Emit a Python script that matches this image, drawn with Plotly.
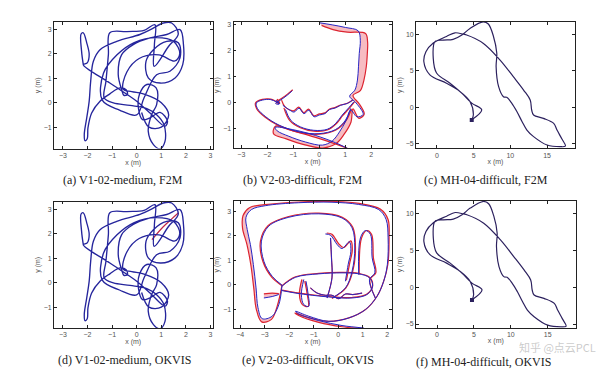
import plotly.graph_objects as go

# ---------------- data ----------------
# V1-02-medium trajectory (panels a, d)
v1_x = [-2.17,-2.24,-2.26,-2.17,-2.03,-1.93,-2.01,-2.17,-1.09,0.00,
        0.54,1.15,1.25,0.95,0.54,0.24,0.07,0.11,0.41,0.79,
        0.81,0.60,0.47,0.68,0.95,1.15,1.11,0.81,0.41,-0.27,
        -0.95,-1.32,-1.25,-1.15,-1.09,-0.40,0.30,0.74,0.72,0.71,
        1.30,1.69,1.42,1.08,0.60,0.13,-0.81,-1.49,-1.76,-1.87,
        -1.93,-2.03,-2.13,-2.10,-2.01,-1.98,-1.83,-1.49,-1.09,-0.68,
        -0.43,-0.38,-0.52,-0.61,-0.75,-0.61,-0.14,0.54,1.22,1.76,
        1.90,1.87,1.56,0.95,0.47,0.38,0.68,1.22,1.69,1.76,
        1.35,0.81,0.30,0.00,-0.70,-1.40,-1.35,-0.80,-0.10,0.80,
        1.50,1.75,1.55,0.90,0.10,-0.40,-0.55,-0.20,0.30,1.00,
        1.30,1.00,0.50,0.20]
v1_y = [1.55,2.10,2.80,2.85,2.44,1.96,1.62,1.55,0.80,0.06,
        -0.42,-0.96,-0.75,-0.40,-0.62,-0.69,-0.22,0.33,0.74,0.60,
        -0.08,-0.50,-1.17,-1.71,-1.88,-1.58,-0.90,-0.49,-0.24,-0.11,
        -0.01,0.19,0.87,1.96,2.85,2.90,2.95,3.18,2.37,1.48,
        2.30,2.80,3.25,3.25,3.00,2.78,2.50,2.16,1.69,0.87,
        0.06,-0.62,-1.30,-1.55,-1.47,-1.03,-0.42,0.06,0.36,0.60,
        0.53,0.33,0.30,0.53,1.14,1.96,2.37,2.64,2.78,2.98,
        2.37,1.55,1.01,0.80,1.01,1.69,2.16,2.50,2.44,1.83,
        1.28,1.14,0.20,-0.50,-0.30,0.10,1.20,1.95,2.45,2.65,
        2.50,2.00,1.70,1.95,1.80,1.25,0.55,0.45,0.35,0.00,
        -0.50,-1.00,-1.00,-0.40]
# small visible ground-truth deviation in panel (d)
d_gt_x = [0.62,1.05,1.40,1.70]
d_gt_y = [1.75,2.25,2.58,2.85]

# MH-04-difficult trajectory (panels c, f)
mh_x = [4.74,4.96,4.5,3.1,1.3,-0.96,-1.78,-1.5,-0.5,1.3,
        2.46,3.6,4.05,6.33,8.6,10.4,11.8,12.7,12.9,13.16,
        14.5,15.9,16.35,17.0,17.5,16.8,15.0,13.16,12.25,11.6,
        10.9,10.2,9.5,9.06,8.4,8.06,8.15,7.7,7.0,6.3,
        4.5,3.4,2.2,0.87,-0.27,-0.5,-0.05,1.78,3.37,4.74,
        6.1,4.74]
mh_y = [-1.73,-1.0,0.8,2.2,3.3,4.45,6.24,7.6,8.8,9.7,
        10.2,10.0,9.9,8.75,6.47,4.2,2.37,1.0,-0.36,-1.05,
        -1.5,-2.19,-3.1,-4.3,-5.29,-5.38,-5.15,-4.0,-3.1,-1.96,
        -0.6,0.55,1.37,1.46,2.83,5.56,7.4,9.7,11.4,11.7,
        10.8,9.9,9.3,9.2,9.0,6.7,4.7,3.3,1.95,0.58,
        -0.34,-1.7]

N = None
# V2-03-difficult, F2M (panel b): estimate and ground truth, strokes split by None
b_est_x = [0.01,0.50,1.01,1.50,1.58,1.54,1.51,1.47,1.37,1.17,1.42,1.69,1.45,1.21,1.04,0.78,0.50,0.12,-0.53,-1.17,-1.62,-1.70,-1.04,-0.14,0.63,1.08, N,
           1.21,1.01,0.63,-0.01,-0.78,-1.55,-2.06,-2.38,-2.42,-2.19,-1.87,-1.65,-1.52, N,
           -1.30,-1.10,-0.72,-0.21,0.31,0.63,0.88,1.14,1.33, N,
           -1.40,-1.17,-0.97,-0.78,-0.59,-0.40,-0.20,0.01,0.22,0.40,0.60,0.82,1.08,1.29, N,
           -1.04,-1.23,-1.49,-1.68,-1.55,-1.65]
b_est_y = [3.05,2.97,2.87,2.74,2.38,1.87,1.36,0.85,0.46,0.23,-0.03,-0.47,-0.56,-0.31,-0.69,-1.14,-1.49,-1.65,-1.53,-1.31,-1.10,-0.97,-1.05,-1.28,-1.56,-1.77, N,
           -0.24,-0.69,-1.05,-1.21,-1.14,-0.88,-0.56,-0.24,-0.03,0.08,0.10,0.01,-0.05, N,
           -0.28,-0.69,-0.95,-1.08,-1.04,-0.82,-0.50,-0.21,0.01, N,
           -0.12,-0.28,-0.38,-0.23,-0.44,-0.31,-0.56,-0.49,-0.44,-0.28,-0.23,-0.12,-0.05,0.08, N,
           0.44,0.27,0.08,-0.05,-0.08,0.08]
b_gt_x = [0.09,0.53,1.08,1.78,1.86,1.85,1.81,1.72,1.58,1.30,1.55,1.73,1.53,1.30,1.22,0.96,0.65,0.14,-0.55,-1.27,-1.76,-1.68,-1.01,-0.11,0.65,1.08, N,
          1.24,1.03,0.64,-0.01,-0.78,-1.56,-2.08,-2.41,-2.45,-2.19,-1.87,-1.65,-1.52, N,
          -1.36,-1.14,-0.73,-0.21,0.31,0.64,0.90,1.17,1.36, N,
          -1.45,-1.30,-0.99,-0.79,-0.60,-0.41,-0.21,0.01,0.22,0.40,0.60,0.82,1.08,1.29, N,
          -1.02,-1.21,-1.47,-1.66,-1.52,-1.62]
b_gt_y = [2.95,2.79,2.69,2.64,2.32,1.87,1.36,0.85,0.44,0.26,-0.08,-0.46,-0.62,-0.26,-0.77,-1.23,-1.59,-1.76,-1.64,-1.41,-1.21,-0.92,-1.10,-1.36,-1.61,-1.77, N,
          -0.26,-0.71,-1.07,-1.23,-1.16,-0.90,-0.58,-0.25,-0.02,0.11,0.12,0.03,-0.03, N,
          -0.22,-0.70,-0.98,-1.11,-1.07,-0.84,-0.52,-0.22,0.02, N,
          0.08,-0.20,-0.33,-0.19,-0.40,-0.27,-0.52,-0.45,-0.41,-0.26,-0.21,-0.11,-0.04,0.08, N,
          0.48,0.32,0.13,0.00,-0.04,0.12]

# V2-03-difficult, OKVIS (panel e)
e_est_x = [-2.29,-2.42,-2.69,-3.10,-3.27,-3.35,-3.46,-3.58,-3.71,-3.76,-3.54,-2.97,-1.61,-0.25,0.84,1.66,1.96,2.04,2.01,1.86,1.59,1.12,0.44,-0.38,-1.20,-1.74,-1.61,-0.79,0.16,1.05, N,
           -0.25,0.30,0.57,0.68,0.57,0.16,-0.79,-2.01,-2.83,-3.13,-3.03,-2.69,-2.29, N,
           -2.29,-1.74,-0.79,0.16,0.84,1.28,1.41,1.18,0.57,-0.25,-1.06,-1.74,-2.29, N,
           -0.52,-0.31,-0.04,0.16,0.46,0.52,0.41,0.30, N,
           0.84,0.91,1.12,1.32,1.39,1.50,1.28,1.52, N,
           -1.13,-0.86,-0.52,-0.25,0.03,0.30,0.60,0.98, N,
           -1.40,-1.50,-1.40,-1.20,-1.23,-1.31, N,
           -3.03,-2.69,-2.42, N,
           -0.31,-0.27,-0.25,-0.45]
e_est_y = [-0.01,-0.80,-1.27,-1.37,-0.93,-0.12,0.83,1.64,2.25,2.75,3.06,3.22,3.34,3.36,3.27,3.06,2.66,1.91,0.83,0.15,-0.46,-1.00,-1.34,-1.48,-1.27,-1.07,-1.18,-1.45,-1.65,-1.75, N,
           -0.53,-0.12,0.56,1.50,2.32,2.72,2.89,2.75,2.39,1.78,0.96,0.35,-0.01, N,
           -0.05,0.31,0.45,0.49,0.45,0.29,-0.05,-0.39,-0.53,-0.50,-0.42,-0.33,-0.23, N,
           2.07,2.02,1.64,1.48,1.75,1.37,0.83,0.15, N,
           0.42,1.91,2.21,2.05,1.10,0.49,0.22,-0.53, N,
           -0.12,-0.33,-0.42,-0.42,-0.56,-0.37,-0.39,-0.33, N,
           0.22,-0.39,-0.80,-0.87,-0.33,0.15, N,
           -0.53,-0.47,-0.39, N,
           1.91,1.10,0.29,-0.53]
e_gt_x = [-2.29,-2.48,-2.72,-3.12,-3.34,-3.44,-3.56,-3.72,-3.90,-3.88,-3.62,-3.00,-1.61,-0.25,0.86,1.72,2.04,2.08,2.03,1.86,1.59,1.12,0.44,-0.38,-1.20,-1.76,-1.61,-0.79,0.16,1.05, N,
          -0.25,0.32,0.60,0.71,0.60,0.17,-0.79,-2.02,-2.86,-3.17,-3.07,-2.72,-2.29, N,
          -2.29,-1.74,-0.79,0.16,0.84,1.28,1.41,1.18,0.57,-0.25,-1.06,-1.74,-2.29, N,
          -0.46,-0.25,0.02,0.22,0.52,0.58,0.47,0.34, N,
          0.86,0.96,1.17,1.37,1.44,1.54,1.30,1.52, N,
          -1.13,-0.86,-0.52,-0.25,0.03,0.30,0.60,0.98, N,
          -1.48,-1.58,-1.46,-1.22,-1.27,-1.36, N,
          -3.03,-2.69,-2.42, N,
          -0.31,-0.27,-0.25,-0.45]
e_gt_y = [-0.01,-0.84,-1.40,-1.50,-0.98,-0.15,0.80,1.64,2.30,2.82,3.14,3.26,3.37,3.39,3.31,3.08,2.66,1.91,0.83,0.15,-0.46,-1.00,-1.34,-1.48,-1.33,-1.14,-1.24,-1.52,-1.70,-1.78, N,
          -0.55,-0.12,0.56,1.50,2.34,2.75,2.92,2.78,2.41,1.78,0.95,0.33,-0.03, N,
          -0.03,0.33,0.47,0.51,0.47,0.31,-0.03,-0.37,-0.51,-0.48,-0.40,-0.31,-0.21, N,
          2.11,2.06,1.68,1.52,1.79,1.41,0.87,0.19, N,
          0.42,1.91,2.21,2.05,1.10,0.49,0.22,-0.53, N,
          -0.12,-0.33,-0.42,-0.42,-0.56,-0.37,-0.39,-0.33, N,
          0.22,-0.39,-0.80,-0.87,-0.33,0.15, N,
          -0.36,-0.33,-0.35, N,
          1.91,1.10,0.29,-0.53]

captions = ["(a) V1-02-medium, F2M", "(b) V2-03-difficult, F2M", "(c) MH-04-difficult, F2M",
            "(d) V1-02-medium, OKVIS", "(e) V2-03-difficult, OKVIS", "(f) MH-04-difficult, OKVIS"]
x_ticks = [[-3,-2,-1,0,1,2,3], [-3,-2,-1,0,1,2], [0,5,10,15],
           [-3,-2,-1,0,1,2,3], [-4,-3,-2,-1,0,1,2], [0,5,10,15]]
y_ticks = [[-1,0,1,2,3], [-1,0,1,2,3], [-5,0,5,10],
           [-1,0,1,2,3], [-1,0,1,2,3], [-5,0,5,10]]

# ---------------- layout geometry ----------------
W, H = 602, 377
def px(x): return x / W
def py(y): return 1 - y / H

panels = [
    dict(xd=[px(54), px(212.5)], yd=[py(148.5), py(22)], xr=[-3.36, 3.08], yr=[-1.87, 3.29]),
    dict(xd=[px(233.5), px(392)], yd=[py(148), py(22)], xr=[-3.30, 2.80], yr=[-1.76, 3.08]),
    dict(xd=[px(416), px(575)], yd=[py(148.3), py(21.7)], xr=[-2.85, 18.8], yr=[-5.6, 11.72]),
    dict(xd=[px(54), px(212.5)], yd=[py(328), py(201.5)], xr=[-3.36, 3.08], yr=[-1.85, 3.31]),
    dict(xd=[px(233.5), px(392)], yd=[py(328), py(201)], xr=[-4.27, 2.20], yr=[-1.75, 3.41]),
    dict(xd=[px(416), px(575.7)], yd=[py(327.7), py(201)], xr=[-2.85, 18.8], yr=[-5.5, 11.77]),
]
cap_pos = [(123, 180), (303, 180), (486, 180), (124, 360), (308, 360), (483, 362)]

fig = go.Figure()

def ax_names(i):
    s = '' if i == 0 else str(i + 1)
    return 'x' + s, 'y' + s

EST = '#2626c4'
GT = '#dc2430'
NAVY = '#25259c'
PURP = '#2c215e'

def line(i, x, y, color, width, shape='spline'):
    xa, ya = ax_names(i)
    fig.add_trace(go.Scatter(x=x, y=y, mode='lines', xaxis=xa, yaxis=ya,
                             line=dict(color=color, width=width, shape=shape, smoothing=1.0),
                             connectgaps=False, hoverinfo='skip', showlegend=False))

def split(arr):
    segs, cur = [], []
    for v in arr:
        if v is None:
            segs.append(cur); cur = []
        else:
            cur.append(v)
    segs.append(cur)
    return segs

def band(i, ex, ey, gx, gy):
    xs, ys = [], []
    for sx, sy, tx, ty in zip(split(ex), split(ey), split(gx), split(gy)):
        xs += tx + sx[::-1] + [None]
        ys += ty + sy[::-1] + [None]
    xa, ya = ax_names(i)
    fig.add_trace(go.Scatter(x=xs, y=ys, mode='lines', xaxis=xa, yaxis=ya, fill='toself',
                             fillcolor='rgba(236,95,110,0.42)',
                             line=dict(width=0, color='rgba(0,0,0,0)', shape='spline', smoothing=1.0),
                             hoverinfo='skip', showlegend=False))

# (a)
line(0, v1_x, v1_y, NAVY, 1.35)
# (b)
band(1, b_est_x, b_est_y, b_gt_x, b_gt_y)
line(1, b_gt_x, b_gt_y, GT, 1.2)
line(1, b_est_x, b_est_y, EST, 1.0)
# (c)
line(2, mh_x, mh_y, PURP, 1.2)
# (d)
line(3, d_gt_x, d_gt_y, '#c02848', 1.2)
line(3, v1_x, v1_y, NAVY, 1.35)
# (e)
band(4, e_est_x, e_est_y, e_gt_x, e_gt_y)
line(4, e_gt_x, e_gt_y, GT, 1.2)
line(4, e_est_x, e_est_y, EST, 1.0)
# (f)
line(5, mh_x, mh_y, PURP, 1.2)

# start markers for MH-04
for i in (2, 5):
    xa, ya = ax_names(i)
    fig.add_trace(go.Scatter(x=mh_x[:1], y=mh_y[:1], mode='markers', xaxis=xa, yaxis=ya,
                             marker=dict(symbol='square', size=4, color=PURP),
                             hoverinfo='skip', showlegend=False))

layout = dict(width=W, height=H, margin=dict(l=0, r=0, t=0, b=0),
              paper_bgcolor='white', plot_bgcolor='white', showlegend=False)
tickfont = dict(family='Liberation Sans, Arial', size=7, color='#555555')
titlefont = dict(family='Liberation Sans, Arial', size=7, color='#555555')
for i, p in enumerate(panels):
    s = '' if i == 0 else str(i + 1)
    common = dict(showgrid=False, zeroline=False, showline=True, mirror='ticks',
                  linecolor='#222222', linewidth=0.8, ticks='inside', ticklen=3,
                  tickwidth=0.7, tickcolor='#222222', tickfont=tickfont, fixedrange=True)
    layout['xaxis' + s] = dict(domain=p['xd'], range=p['xr'], tickvals=x_ticks[i],
                               anchor='y' + s,
                               title=dict(text='x (m)', font=titlefont, standoff=1), **common)
    layout['yaxis' + s] = dict(domain=p['yd'], range=p['yr'], tickvals=y_ticks[i],
                               anchor='x' + s,
                               title=dict(text='y (m)', font=titlefont, standoff=2), **common)

annotations = []
for (cx, cy), txt in zip(cap_pos, captions):
    annotations.append(dict(text=txt, x=px(cx), y=py(cy), xref='paper', yref='paper',
                            xanchor='center', yanchor='middle', showarrow=False,
                            font=dict(family='Liberation Serif, Times New Roman, serif',
                                      size=12, color='#222222')))
annotations.append(dict(text='知乎 @点云PCL', x=px(598), y=py(347), xref='paper', yref='paper',
                        xanchor='right', yanchor='middle', showarrow=False,
                        font=dict(family='Noto Sans CJK SC', size=11,
                                  color='rgba(150,150,150,0.5)')))
layout['annotations'] = annotations
fig.update_layout(**layout)
fig.write_html('out.html')
